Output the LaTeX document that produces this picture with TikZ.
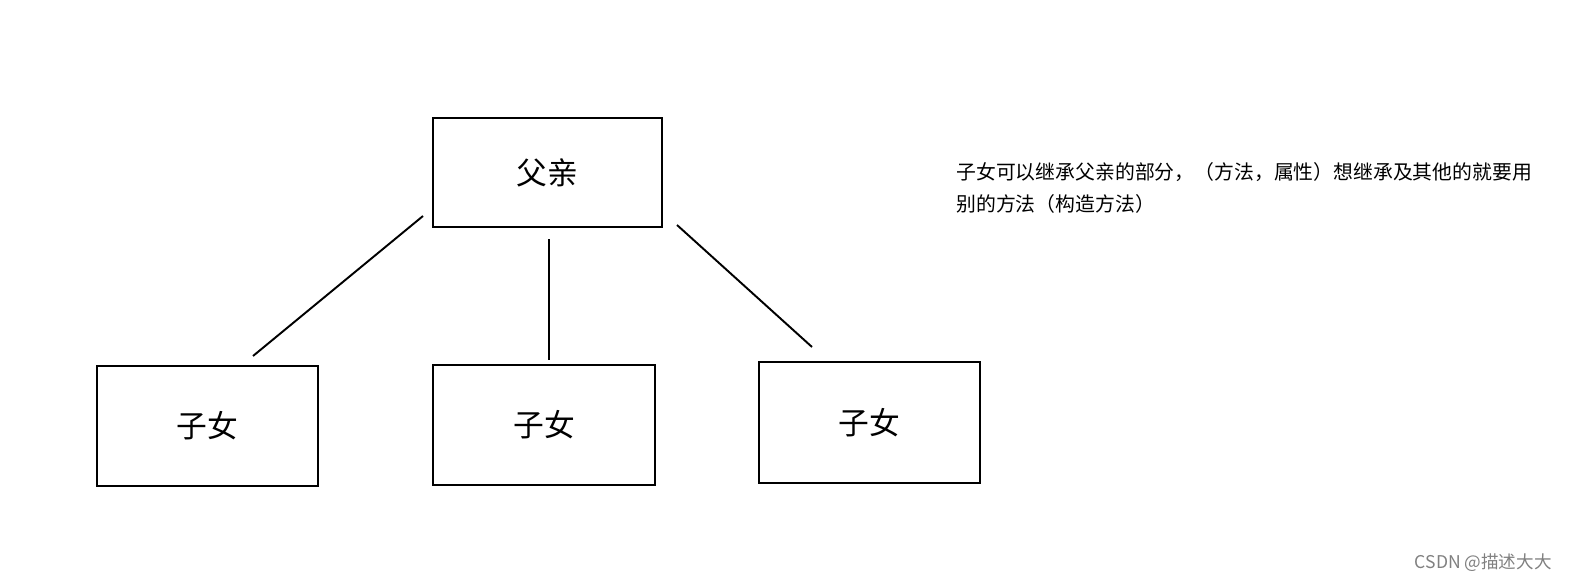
\documentclass[tikz,border=0pt]{standalone}
\usepackage{fontspec}
\newfontfamily\cjk{Noto Sans CJK SC}
\begin{document}
\begin{tikzpicture}[x=0.02cm,y=-0.02cm,
    box/.style={draw, line width=1.1pt, rectangle, inner sep=0pt, font=\cjk\fontsize{17.5}{20}\selectfont},
    note/.style={anchor=west, inner sep=0pt, font=\cjk\fontsize{11.3}{13}\selectfont}]
    \useasboundingbox (0,0) rectangle (1587,588);
    % Boxes
    \node[box, minimum width=229*0.02cm, minimum height=109*0.02cm] (father) at (547.5,172.5) {父亲};
    \node[box, minimum width=221*0.02cm, minimum height=120*0.02cm] (child-1) at (207.5,426) {子女};
    \node[box, minimum width=222*0.02cm, minimum height=120*0.02cm] (child-2) at (544,425) {子女};
    \node[box, minimum width=221*0.02cm, minimum height=121*0.02cm] (child-3) at (869.5,422.5) {子女};

    % Lines
    \coordinate (a-1) at (423,216); \coordinate (b-1) at (253,356);
    \coordinate (a-2) at (549,239); \coordinate (b-2) at (549,360);
    \coordinate (a-3) at (677,225); \coordinate (b-3) at (812,347);
    \foreach \i in {1,2,3}
        \draw[line width=1.1pt] (a-\i) -- (b-\i);

    % Note
    \node[note] (note-1) at (956,172) {子女可以继承父亲的部分，（方法，属性）想继承及其他的就要用};
    \node[note] (note-2) at (956,204) {别的方法（构造方法）};
    \node[anchor=east, inner sep=0pt, text=gray, font=\cjk\fontsize{10}{12}\selectfont] (mark) at (1552,563) {CSDN @描述大大};
\end{tikzpicture}
\end{document}
